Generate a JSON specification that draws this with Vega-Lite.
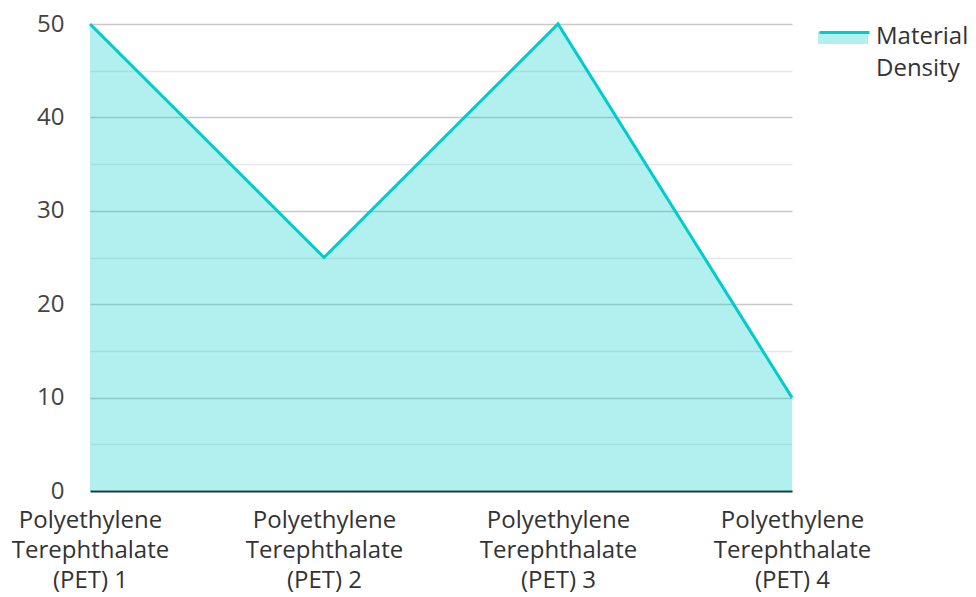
{
  "$schema": "https://vega.github.io/schema/vega-lite/v6.json",
  "autosize": {"type": "none"},
  "width": 702,
  "height": 467,
  "padding": {"left": 90, "top": 24, "right": 184, "bottom": 106},
  "background": "white",
  "config": {
    "font": "Open Sans",
    "view": {"stroke": null},
    "style": {"guide-label": {"lineHeight": 32}}
  },
  "data": {
    "values": [
      {"material": "Polyethylene Terephthalate (PET) 1", "density": 50, "series": "Material Density"},
      {"material": "Polyethylene Terephthalate (PET) 2", "density": 25, "series": "Material Density"},
      {"material": "Polyethylene Terephthalate (PET) 3", "density": 50, "series": "Material Density"},
      {"material": "Polyethylene Terephthalate (PET) 4", "density": 10, "series": "Material Density"}
    ]
  },
  "encoding": {
    "x": {
      "field": "material",
      "type": "ordinal",
      "scale": {"type": "point", "padding": 0},
      "axis": {
        "title": null,
        "labelAngle": 0,
        "labelFontSize": 24,
        "labelColor": "#333333",
        "labelLineHeight": 30,
        "labelPadding": 17,
        "labelExpr": "[slice(datum.label,0,12), slice(datum.label,13,26), slice(datum.label,27)]",
        "ticks": false,
        "grid": false,
        "domainColor": "#333333",
        "domainWidth": 2,
        "labelBaseline": "top",
        "labelLimit": 300
      }
    },
    "y": {
      "field": "density",
      "type": "quantitative",
      "scale": {"domain": [0, 50], "nice": false},
      "axis": {
        "title": null,
        "values": [0, 5, 10, 15, 20, 25, 30, 35, 40, 45, 50],
        "labelExpr": "datum.value % 10 === 0 ? datum.label : ''",
        "labelFontSize": 24,
        "labelColor": "#444444",
        "labelPadding": 26,
        "labelBaseline": "middle",
        "ticks": false,
        "domain": false,
        "gridColor": {"condition": {"test": "datum.value % 10 === 0", "value": "#c8c8c8"}, "value": "#e8e8e8"},
        "gridWidth": 1.5
      }
    }
  },
  "layer": [
    {
      "mark": {"type": "area", "fillOpacity": 0.3},
      "encoding": {
        "fill": {
          "field": "series",
          "type": "nominal",
          "scale": {"range": ["#00cccc"]},
          "legend": {
            "title": null,
            "orient": "none",
            "legendX": 728,
            "legendY": -12,
            "symbolType": "M-1,-0.2H1V0.28H-1Z",
            "symbolSize": 2500,
            "symbolOpacity": 0.3,
            "symbolStrokeWidth": 0,
            "labelFontSize": 24,
            "labelColor": "#333333",
            "labelOffset": 8,
            "labelExpr": "split(datum.label, ' ')"
          }
        }
      }
    },
    {
      "mark": {"type": "line", "strokeWidth": 3},
      "encoding": {
        "stroke": {
          "field": "series",
          "type": "nominal",
          "scale": {"range": ["#00cccc"]},
          "legend": {
            "title": null,
            "orient": "none",
            "legendX": 728,
            "legendY": -12,
            "symbolType": "M-1,-0.24H1",
            "symbolSize": 2500,
            "symbolStrokeWidth": 3,
            "labelFontSize": 24,
            "labelColor": "#333333",
            "labelOpacity": 0,
            "labelOffset": 8,
            "labelExpr": "[' ', ' ']"
          }
        }
      }
    }
  ]
}
